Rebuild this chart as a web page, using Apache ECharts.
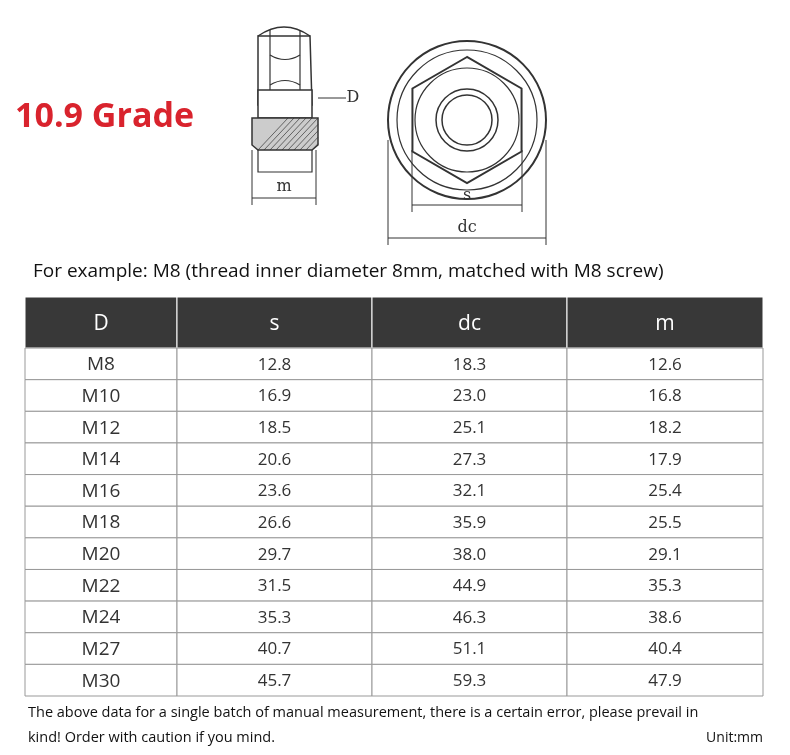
<!DOCTYPE html>
<html><head><meta charset="utf-8">
<script src="https://cdn.jsdelivr.net/npm/echarts@6/dist/echarts.min.js"></script>
<style>html,body{margin:0;padding:0;background:#fff}#c{width:790px;height:755px}</style>
</head><body><div id="c"></div>
<script>
const headers = ['D','s','dc','m'];
const sizes = ['M8','M10','M12','M14','M16','M18','M20','M22','M24','M27','M30'];
const sVals = ['12.8','16.9','18.5','20.6','23.6','26.6','29.7','31.5','35.3','40.7','45.7'];
const dcVals = ['18.3','23.0','25.1','27.3','32.1','35.9','38.0','44.9','46.3','51.1','59.3'];
const mVals = ['12.6','16.8','18.2','17.9','25.4','25.5','29.1','35.3','38.6','40.4','47.9'];

const colEdges = [0,152,347,542,738];
const headH = 51, rowH = 31.6;
const cells = [];
headers.forEach((h,c)=>cells.push([c,-1,h]));
sizes.forEach((d,r)=>{cells.push([0,r,d]);cells.push([1,r,sVals[r]]);cells.push([2,r,dcVals[r]]);cells.push([3,r,mVals[r]]);});

const chart = echarts.init(document.getElementById('c'));
const g = [];
const ln=(x1,y1,x2,y2,w)=>g.push({type:'line',shape:{x1,y1,x2,y2},style:{stroke:'#333',lineWidth:w||1}});
// side view
g.push({type:'polygon',shape:{points:[[258,36],[310,36],[312,105],[258,105]]},style:{fill:'#fff',stroke:'#333',lineWidth:1.5}});
g.push({type:'bezierCurve',shape:{x1:258,y1:36,x2:310,y2:36,cpx1:284,cpy1:18},style:{fill:null,stroke:'#333',lineWidth:1.5}});
ln(270,30,270,105,1.2); ln(300,30,300,105,1.2);
g.push({type:'bezierCurve',shape:{x1:270,y1:55,x2:300,y2:55,cpx1:285,cpy1:64},style:{fill:null,stroke:'#333',lineWidth:1.2}});
g.push({type:'bezierCurve',shape:{x1:270,y1:85,x2:300,y2:85,cpx1:285,cpy1:76},style:{fill:null,stroke:'#333',lineWidth:1.2}});
g.push({type:'rect',shape:{x:258,y:90,width:54,height:28},style:{fill:'#fff',stroke:'#333',lineWidth:1.5}});
g.push({type:'polygon',shape:{points:[[252,118],[318,118],[318,145],[312,150],[258,150],[252,145]]},style:{fill:'#ccc',stroke:'#333',lineWidth:1.5}});
for(let x=258;x<318;x+=6){ln(x,150,Math.min(x+30,318),150-Math.min(30,318-x)*32/30,0.7);}
g.push({type:'polyline',shape:{points:[[258,150],[258,172],[312,172],[312,150]]},style:{stroke:'#333',lineWidth:1.2}});
ln(252,150,252,205); ln(316,150,316,205); ln(252,198,316,198);
g.push({type:'text',style:{text:'m',x:284,y:187,fill:'#333',font:'16px DejaVu Serif',align:'center',verticalAlign:'middle'}});
ln(318,98,346,98);
g.push({type:'text',style:{text:'D',x:353,y:98,fill:'#333',font:'16px DejaVu Serif',align:'center',verticalAlign:'middle'}});
// front view
const cx=467, cy=120;
const hex=[];for(let i=0;i<6;i++){const a=Math.PI/2+i*Math.PI/3;hex.push([cx+63*Math.cos(a),cy-63*Math.sin(a)]);}
g.push({type:'circle',shape:{cx,cy,r:79},style:{fill:'#fff',stroke:'#333',lineWidth:2}});
g.push({type:'circle',shape:{cx,cy,r:70},style:{fill:null,stroke:'#333',lineWidth:1.2}});
g.push({type:'polygon',shape:{points:hex},style:{fill:'#fff',stroke:'#333',lineWidth:2}});
g.push({type:'circle',shape:{cx,cy,r:52},style:{fill:null,stroke:'#333',lineWidth:1.2}});
g.push({type:'circle',shape:{cx,cy,r:31},style:{fill:null,stroke:'#333',lineWidth:1.5}});
g.push({type:'circle',shape:{cx,cy,r:25},style:{fill:null,stroke:'#333',lineWidth:1.5}});
ln(412,150,412,212); ln(522,150,522,212); ln(388,140,388,245); ln(546,140,546,245);
ln(412,205,522,205); ln(388,238,546,238);
g.push({type:'text',style:{text:'s',x:467,y:196,fill:'#333',font:'16px DejaVu Serif',align:'center',verticalAlign:'middle'}});
g.push({type:'text',style:{text:'dc',x:467,y:228,fill:'#333',font:'16px DejaVu Serif',align:'center',verticalAlign:'middle'}});
// texts
g.push({type:'text',style:{text:'10.9 Grade',x:15,y:117,fill:'#d9232d',font:'bold 34px "Open Sans"',verticalAlign:'middle'}});
g.push({type:'text',style:{text:'For example: M8 (thread inner diameter 8mm, matched with M8 screw)',x:33,y:272,fill:'#111',font:'19px "Open Sans"',verticalAlign:'middle'}});
g.push({type:'text',style:{text:'The above data for a single batch of manual measurement, there is a certain error, please prevail in',x:28,y:713,fill:'#111',font:'14.5px "Open Sans"',verticalAlign:'middle'}});
g.push({type:'text',style:{text:'kind! Order with caution if you mind.',x:28,y:738,fill:'#111',font:'14.5px "Open Sans"',verticalAlign:'middle'}});
g.push({type:'text',style:{text:'Unit:mm',x:763,y:738,fill:'#111',font:'14px "Open Sans"',align:'right',verticalAlign:'middle'}});

chart.setOption({
 animation:false,
 graphic:g,
 grid:{left:25,right:27,top:297,bottom:59},
 xAxis:{type:'value',min:0,max:738,show:false},
 yAxis:{type:'value',min:0,max:headH+rowH*11,inverse:true,show:false},
 series:[{type:'custom',data:cells,renderItem:(params,api)=>{
   const c=api.value(0), r=api.value(1);
   const y0 = r<0?0:headH+r*rowH, y1 = r<0?headH:headH+(r+1)*rowH;
   const p0=api.coord([colEdges[c],y0]), p1=api.coord([colEdges[c+1],y1]);
   const head=r<0;
   return {type:'group',children:[
     {type:'rect',shape:{x:p0[0],y:p0[1],width:p1[0]-p0[0],height:p1[1]-p0[1]},style:{fill:head?'#383838':'#fff',stroke:head?'#fff':'#999',lineWidth:1}},
     {type:'text',style:{text:cells[params.dataIndex][2],x:(p0[0]+p1[0])/2,y:(p0[1]+p1[1])/2+1,align:'center',verticalAlign:'middle',fill:head?'#fff':'#333',font:(head?'21px':(c===0?'19px':'17px'))+' "Open Sans"'}}
   ]};
 }}]
});
</script></body></html>
